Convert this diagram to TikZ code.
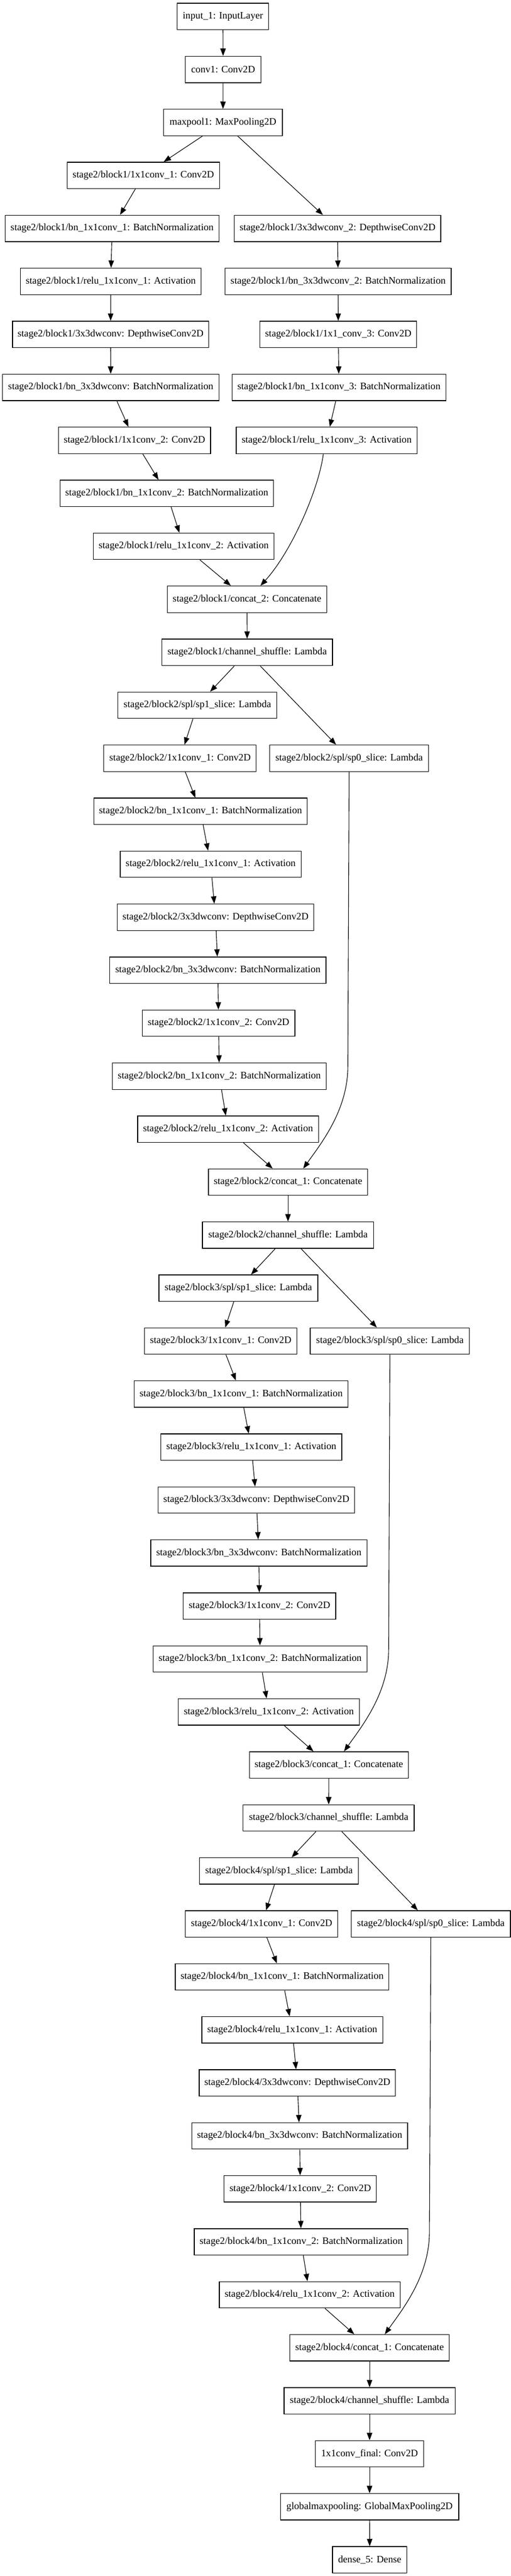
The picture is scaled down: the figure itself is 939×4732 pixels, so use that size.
\documentclass[tikz,border=0pt]{standalone}
\usepackage{fontspec}
\setmainfont{Liberation Serif}
\usetikzlibrary{arrows.meta}
\newcommand\laysize{\fontsize{18.2pt}{21pt}\selectfont}
\newcommand\skipedge[2]{\draw[edge] (#1.south) -- ([xshift=110pt,yshift=188pt]#2.north) .. controls ([xshift=110pt,yshift=108pt]#2.north) and ([xshift=61.5pt,yshift=47pt]#2.north) .. ([xshift=28pt]#2.north);}
\begin{document}
\begin{tikzpicture}[x=1pt,y=-1pt,
  layer/.style={draw, line width=1.3pt, minimum height=48.5pt, inner sep=0pt, font=\laysize},
  edge/.style={draw, line width=1.1pt, -{Triangle[length=13.5pt,width=10pt]}}]
\useasboundingbox (0,0) rectangle (939,4732);
% trunk
\node[layer, minimum width=168] (inp) at (409.7,30.25) {input\_1: InputLayer};
\node[layer, minimum width=138.4] (conv1) at (410,127.6) {conv1: Conv2D};
\node[layer, minimum width=218.6] (pool) at (409.7,224.9) {maxpool1: MaxPooling2D};
% block 1
\node[layer, minimum width=280] (k1c1) at (263.4,322.2) {stage2/block1/1x1conv\_1: Conv2D};
\node[layer, minimum width=392.6] (k1bn1) at (206,419.6) {stage2/block1/bn\_1x1conv\_1: BatchNormalization};
\node[layer, minimum width=379.3] (k1dw2) at (620.2,419.6) {stage2/block1/3x3dwconv\_2: DepthwiseConv2D};
\node[layer, minimum width=332.4] (k1r1) at (203.5,516.9) {stage2/block1/relu\_1x1conv\_1: Activation};
\node[layer, minimum width=415.4] (k1bndw2) at (621.3,516.9) {stage2/block1/bn\_3x3dwconv\_2: BatchNormalization};
\node[layer, minimum width=360.6] (k1dw) at (203.2,614.2) {stage2/block1/3x3dwconv: DepthwiseConv2D};
\node[layer, minimum width=288.4] (k1c3) at (621.6,614.2) {stage2/block1/1x1\_conv\_3: Conv2D};
\node[layer, minimum width=397.4] (k1bndw) at (203.5,711.6) {stage2/block1/bn\_3x3dwconv: BatchNormalization};
\node[layer, minimum width=393.1] (k1bn3) at (622.8,711.6) {stage2/block1/bn\_1x1conv\_3: BatchNormalization};
\node[layer, minimum width=279.9] (k1c2) at (247.1,808.9) {stage2/block1/1x1conv\_2: Conv2D};
\node[layer, minimum width=332.4] (k1r3) at (600.2,808.9) {stage2/block1/relu\_1x1conv\_3: Activation};
\node[layer, minimum width=392.5] (k1bn2) at (306.4,906.2) {stage2/block1/bn\_1x1conv\_2: BatchNormalization};
\node[layer, minimum width=331.7] (k1r2) at (337.5,1003.5) {stage2/block1/relu\_1x1conv\_2: Activation};
\node[layer, minimum width=292.6] (k1cat) at (453.9,1100.9) {stage2/block1/concat\_2: Concatenate};
\node[layer, minimum width=313.6] (k1sh) at (454.2,1198.2) {stage2/block1/channel\_shuffle: Lambda};
% block 2
\node[layer, minimum width=292] (k2sp1) at (362.7,1295.5) {stage2/block2/spl/sp1\_slice: Lambda};
\node[layer, minimum width=280] (k2c1) at (330.8,1392.9) {stage2/block2/1x1conv\_1: Conv2D};
\node[layer, minimum width=292] (k2sp0) at (641.5,1392.9) {stage2/block2/spl/sp0\_slice: Lambda};
\node[layer, minimum width=392.5] (k2bn1) at (368.4,1490.2) {stage2/block2/bn\_1x1conv\_1: BatchNormalization};
\node[layer, minimum width=332.3] (k2r1) at (387.1,1587.5) {stage2/block2/relu\_1x1conv\_1: Activation};
\node[layer, minimum width=361.3] (k2dw) at (396.1,1684.9) {stage2/block2/3x3dwconv: DepthwiseConv2D};
\node[layer, minimum width=397.3] (k2bndw) at (400.4,1782.2) {stage2/block2/bn\_3x3dwconv: BatchNormalization};
\node[layer, minimum width=280.5] (k2c2) at (401.6,1879.5) {stage2/block2/1x1conv\_2: Conv2D};
\node[layer, minimum width=393.1] (k2bn2) at (403,1976.9) {stage2/block2/bn\_1x1conv\_2: BatchNormalization};
\node[layer, minimum width=332.3] (k2r2) at (419,2074.2) {stage2/block2/relu\_1x1conv\_2: Activation};
\node[layer, minimum width=292.6] (k2cat) at (529.2,2171.5) {stage2/block2/concat\_1: Concatenate};
\node[layer, minimum width=314.3] (k2sh) at (529.2,2268.8) {stage2/block2/channel\_shuffle: Lambda};
% block 3
\node[layer, minimum width=292] (k3sp1) at (438,2366.2) {stage2/block3/spl/sp1\_slice: Lambda};
\node[layer, minimum width=280] (k3c1) at (405.5,2463.5) {stage2/block3/1x1conv\_1: Conv2D};
\node[layer, minimum width=292.6] (k3sp0) at (716.4,2463.5) {stage2/block3/spl/sp0\_slice: Lambda};
\node[layer, minimum width=392.6] (k3bn1) at (443.1,2560.8) {stage2/block3/bn\_1x1conv\_1: BatchNormalization};
\node[layer, minimum width=332.4] (k3r1) at (461.8,2658.2) {stage2/block3/relu\_1x1conv\_1: Activation};
\node[layer, minimum width=360.6] (k3dw) at (471.1,2755.5) {stage2/block3/3x3dwconv: DepthwiseConv2D};
\node[layer, minimum width=397.3] (k3bndw) at (475.6,2852.8) {stage2/block3/bn\_3x3dwconv: BatchNormalization};
\node[layer, minimum width=280.6] (k3c2) at (476.8,2950.2) {stage2/block3/1x1conv\_2: Conv2D};
\node[layer, minimum width=392.5] (k3bn2) at (478,3047.5) {stage2/block3/bn\_1x1conv\_2: BatchNormalization};
\node[layer, minimum width=332.9] (k3r2) at (494,3144.8) {stage2/block3/relu\_1x1conv\_2: Activation};
\node[layer, minimum width=292] (k3cat) at (604.2,3242.1) {stage2/block3/concat\_1: Concatenate};
\node[layer, minimum width=314.3] (k3sh) at (603.9,3339.5) {stage2/block3/channel\_shuffle: Lambda};
% block 4
\node[layer, minimum width=292] (k4sp1) at (512.6,3436.8) {stage2/block4/spl/sp1\_slice: Lambda};
\node[layer, minimum width=279.9] (k4c1) at (480.7,3534.1) {stage2/block4/1x1conv\_1: Conv2D};
\node[layer, minimum width=292.6] (k4sp0) at (791.7,3534.1) {stage2/block4/spl/sp0\_slice: Lambda};
\node[layer, minimum width=392.6] (k4bn1) at (518.3,3631.5) {stage2/block4/bn\_1x1conv\_1: BatchNormalization};
\node[layer, minimum width=332.3] (k4r1) at (537,3728.8) {stage2/block4/relu\_1x1conv\_1: Activation};
\node[layer, minimum width=360.7] (k4dw) at (546.4,3826.1) {stage2/block4/3x3dwconv: DepthwiseConv2D};
\node[layer, minimum width=396.8] (k4bndw) at (550.6,3923.5) {stage2/block4/bn\_3x3dwconv: BatchNormalization};
\node[layer, minimum width=280] (k4c2) at (551.8,4020.8) {stage2/block4/1x1conv\_2: Conv2D};
\node[layer, minimum width=392.5] (k4bn2) at (553.3,4118.1) {stage2/block4/bn\_1x1conv\_2: BatchNormalization};
\node[layer, minimum width=332.3] (k4r2) at (569,4215.4) {stage2/block4/relu\_1x1conv\_2: Activation};
\node[layer, minimum width=292.6] (k4cat) at (679.1,4312.8) {stage2/block4/concat\_1: Concatenate};
\node[layer, minimum width=314.2] (k4sh) at (679.1,4410.1) {stage2/block4/channel\_shuffle: Lambda};
% head
\node[layer, minimum width=198.7] (fin) at (679.1,4507.4) {1x1conv\_final: Conv2D};
\node[layer, minimum width=327.5] (gmp) at (679.1,4604.8) {globalmaxpooling: GlobalMaxPooling2D};
\node[layer, minimum width=136.7] (dense) at (679.4,4702.1) {dense\_5: Dense};
% edges
\draw[edge] (inp) -- (conv1);
\draw[edge] (conv1) -- (pool);
\draw[edge] (pool) -- (k1c1);
\draw[edge] (pool) -- (k1dw2);
\draw[edge] (k1c1) -- (k1bn1);
\draw[edge] (k1bn1) -- (k1r1);
\draw[edge] (k1r1) -- (k1dw);
\draw[edge] (k1dw) -- (k1bndw);
\draw[edge] (k1bndw) -- (k1c2);
\draw[edge] (k1c2) -- (k1bn2);
\draw[edge] (k1bn2) -- (k1r2);
\draw[edge] (k1r2) -- (k1cat);
\draw[edge] (k1dw2) -- (k1bndw2);
\draw[edge] (k1bndw2) -- (k1c3);
\draw[edge] (k1c3) -- (k1bn3);
\draw[edge] (k1bn3) -- (k1r3);
\draw[edge] ([xshift=-6pt]k1r3.south) .. controls ([xshift=-15pt,yshift=-67pt]k1r3.south) and ([xshift=81pt,yshift=61.6pt]k1cat.north) .. ([xshift=24.7pt]k1cat.north);
\draw[edge] (k1cat) -- (k1sh);
\draw[edge] (k1sh) -- (k2sp1);
\draw[edge] (k1sh) -- (k2sp0);
\draw[edge] (k2sp1) -- (k2c1);
\draw[edge] (k2c1) -- (k2bn1);
\draw[edge] (k2bn1) -- (k2r1);
\draw[edge] (k2r1) -- (k2dw);
\draw[edge] (k2dw) -- (k2bndw);
\draw[edge] (k2bndw) -- (k2c2);
\draw[edge] (k2c2) -- (k2bn2);
\draw[edge] (k2bn2) -- (k2r2);
\draw[edge] (k2r2) -- (k2cat);
\skipedge{k2sp0}{k2cat}
\draw[edge] (k2cat) -- (k2sh);
\draw[edge] (k2sh) -- (k3sp1);
\draw[edge] (k2sh) -- (k3sp0);
\draw[edge] (k3sp1) -- (k3c1);
\draw[edge] (k3c1) -- (k3bn1);
\draw[edge] (k3bn1) -- (k3r1);
\draw[edge] (k3r1) -- (k3dw);
\draw[edge] (k3dw) -- (k3bndw);
\draw[edge] (k3bndw) -- (k3c2);
\draw[edge] (k3c2) -- (k3bn2);
\draw[edge] (k3bn2) -- (k3r2);
\draw[edge] (k3r2) -- (k3cat);
\skipedge{k3sp0}{k3cat}
\draw[edge] (k3cat) -- (k3sh);
\draw[edge] (k3sh) -- (k4sp1);
\draw[edge] (k3sh) -- (k4sp0);
\draw[edge] (k4sp1) -- (k4c1);
\draw[edge] (k4c1) -- (k4bn1);
\draw[edge] (k4bn1) -- (k4r1);
\draw[edge] (k4r1) -- (k4dw);
\draw[edge] (k4dw) -- (k4bndw);
\draw[edge] (k4bndw) -- (k4c2);
\draw[edge] (k4c2) -- (k4bn2);
\draw[edge] (k4bn2) -- (k4r2);
\draw[edge] (k4r2) -- (k4cat);
\skipedge{k4sp0}{k4cat}
\draw[edge] (k4cat) -- (k4sh);
\draw[edge] (k4sh) -- (fin);
\draw[edge] (fin) -- (gmp);
\draw[edge] (gmp) -- (dense);
\end{tikzpicture}
\end{document}
